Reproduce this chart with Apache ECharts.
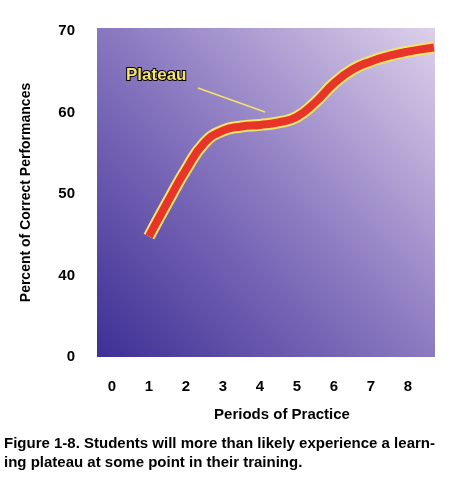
<!DOCTYPE html><html><head><meta charset="utf-8">
<script src="https://cdn.jsdelivr.net/npm/echarts@6/dist/echarts.min.js"></script>
<style>body{margin:0;background:#fff}#c{width:474px;height:483px}</style></head><body><div id="c"></div>
<script>
const xs=[1,1.5,2,2.5,3,3.5,4,4.5,5,5.5,6,6.5,7,7.5,8,8.7];
const ys=[44.8,49,53,56.3,57.8,58.3,58.5,58.8,59.5,61.3,63.6,65.3,66.3,67,67.5,68];
const yTicks={30:'0',40:'40',50:'50',60:'60',70:'70'};
const caption='Figure 1-8. Students will more than likely experience a learn-\ning plateau at some point in their training.';
const pts=xs.map((x,i)=>[x,ys[i]]);
const c=echarts.init(document.getElementById('c'));
c.setOption({
 grid:{left:75,right:29,top:28,bottom:126},
 xAxis:{type:'value',min:-1,max:9,interval:1,axisLine:{show:false},axisTick:{show:false},splitLine:{show:false},
  axisLabel:{color:'#000',fontWeight:'bold',fontSize:15,fontFamily:'Liberation Sans',margin:22,formatter:v=>(v>=0&&v<=8)?String(v):''},
  name:'Periods of Practice',nameLocation:'middle',nameGap:50,nameTextStyle:{color:'#000',fontWeight:'bold',fontSize:15,fontFamily:'Liberation Sans',padding:[0,0,0,44]}},
 yAxis:{type:'value',min:30,max:70.4,interval:10,axisLine:{show:false},axisTick:{show:false},splitLine:{show:false},
  axisLabel:{color:'#000',fontWeight:'bold',fontSize:15,fontFamily:'Liberation Sans',margin:0,padding:[0,0,0,0],formatter:v=>yTicks[v]||''},
  name:'Percent of Correct Performances',nameLocation:'middle',nameGap:42,nameTextStyle:{color:'#000',fontWeight:'bold',fontSize:14,fontFamily:'Liberation Sans'}},
 series:[
  {type:'line',data:pts,smooth:0.5,symbol:'none',lineStyle:{color:'#f4e46a',width:12},silent:true,z:3},
  {type:'line',data:pts,smooth:0.5,symbol:'none',lineStyle:{color:'#e8352a',width:8},silent:true,z:4}
 ],
 graphic:[
  {type:'rect',shape:{x:97,y:28,width:338,height:329},z:-1,style:{fill:new echarts.graphic.LinearGradient(0,1,1,0,[{offset:0,color:'#3d2f95'},{offset:0.5,color:'#8a78c0'},{offset:1,color:'#ddd0ea'}])}},
  {type:'line',shape:{x1:198,y1:88,x2:265,y2:112},style:{stroke:'#f4e46a',lineWidth:1.5},z:10},
  {type:'text',left:125,top:66,z:10,style:{text:'Plateau',fill:'#f4e46a',stroke:'#000',lineWidth:2,font:'bold 17px Liberation Sans'}},
  {type:'text',left:4,top:434,style:{text:caption,fill:'#000',font:'bold 15px Liberation Sans',lineHeight:19}}
 ]
});
</script></body></html>
